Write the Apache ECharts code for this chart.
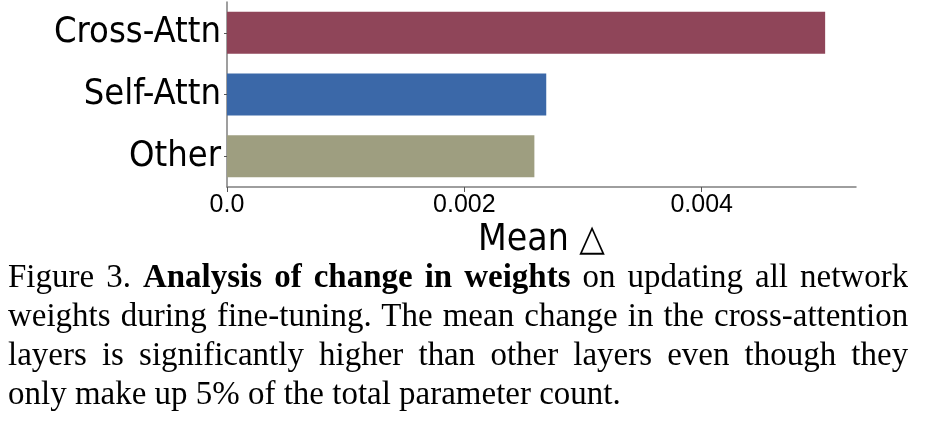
<!DOCTYPE html>
<html>
<head>
<meta charset="utf-8">
<script src="https://cdn.jsdelivr.net/npm/echarts@6/dist/echarts.min.js"></script>
<style>
  html, body { margin: 0; padding: 0; background: #fff; }
  #wrap { position: relative; width: 925px; height: 430px; overflow: hidden; }
  #chart { position: absolute; left: 0; top: 0; width: 925px; height: 430px; }
  #caption {
    position: absolute; left: 8px; top: 256px; width: 928px;
    transform: scaleX(0.97); transform-origin: 0 0;
    font-family: "Liberation Serif", "Times New Roman", serif;
    font-size: 34px; line-height: 39px; color: #000;
  }
  #caption div { text-align: justify; text-align-last: justify; white-space: nowrap; }
  #caption div.last { text-align-last: left; }
</style>
</head>
<body>
<div id="wrap">
  <div id="chart"></div>
  <div id="caption">
    <div>Figure 3. <b>Analysis of change in weights</b> on updating all network</div>
    <div>weights during fine-tuning. The mean change in the cross-attention</div>
    <div>layers is significantly higher than other layers even though they</div>
    <div class="last">only make up 5% of the total parameter count.</div>
  </div>
</div>
<script>
// 层类型（从上到下）
const layerNames = ['Cross-Attn', 'Self-Attn', 'Other'];
const meanDelta = [0.00504, 0.00269, 0.00259];
const barColors = ['#8f4559', '#3b68a8', '#9e9e80'];
const xTicks = [0, 0.002, 0.004];

const chart = echarts.init(document.getElementById('chart'));

const option = {
  animation: false,
  grid: {
    left: 227,
    right: 69,
    top: 2,
    height: 185,
  },
  xAxis: {
    type: 'value',
    min: 0,
    max: 0.0053,
    name: 'Mean △',
    nameLocation: 'middle',
    nameGap: 35,
    nameTextStyle: {
      fontFamily: '"DejaVu Sans Condensed", sans-serif',
      fontSize: 37,
      color: '#000',
    },
    splitLine: { show: false },
    axisLine: {
      show: true,
      lineStyle: { color: '#7f7f7f', width: 1.5 },
    },
    axisTick: {
      show: true,
      length: 5,
      customValues: xTicks,
      lineStyle: { color: '#555', width: 1 },
    },
    axisLabel: {
      customValues: xTicks,
      margin: 6,
      fontFamily: '"Liberation Sans", sans-serif',
      fontSize: 25,
      color: '#000',
      formatter: (v) => (v === 0 ? '0.0' : v.toFixed(3)),
    },
  },
  yAxis: {
    type: 'category',
    inverse: true,
    data: layerNames,
    axisLine: {
      show: true,
      lineStyle: { color: '#7f7f7f', width: 1.5 },
    },
    axisTick: {
      show: true,
      alignWithLabel: true,
      length: 3,
      lineStyle: { color: '#555' },
    },
    axisLabel: {
      margin: 6,
      fontFamily: '"DejaVu Sans Condensed", sans-serif',
      fontSize: 36,
      color: '#000',
    },
  },
  series: [
    {
      type: 'bar',
      barWidth: 42,
      data: meanDelta.map((v, i) => ({
        value: v,
        itemStyle: { color: barColors[i] },
      })),
    },
  ],
};

chart.setOption(option);
</script>
</body>
</html>
